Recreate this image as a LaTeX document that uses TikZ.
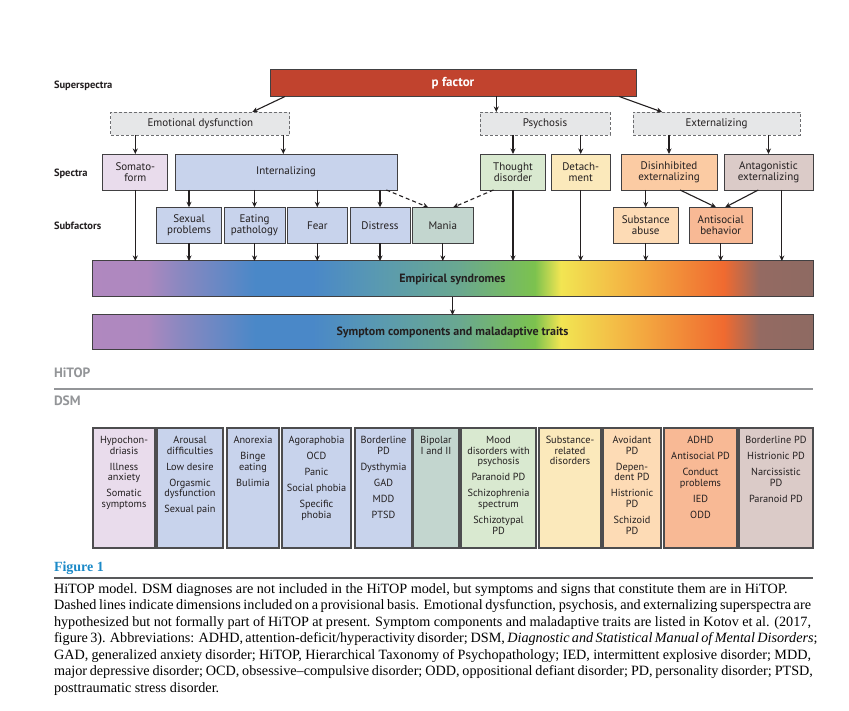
\documentclass[tikz,border=0pt]{standalone}
\usepackage{fontspec}
\setmainfont{Liberation Serif}
\newfontfamily\dsans{PT Sans}
\usetikzlibrary{arrows.meta,calc}
\definecolor{textc}{HTML}{231F20}
\definecolor{bordc}{HTML}{414042}
\definecolor{dsmbord}{HTML}{4D4D4F}
\definecolor{arrc}{HTML}{231F20}
\definecolor{dashc}{HTML}{6D6E71}
\definecolor{supgray}{HTML}{E6E7E8}
\definecolor{pred}{HTML}{C1432E}
\definecolor{cpink}{HTML}{E9DCEC}
\definecolor{cblue}{HTML}{C8D3EC}
\definecolor{cmania}{HTML}{C3D6CF}
\definecolor{cthought}{HTML}{D9E9D0}
\definecolor{cdetach}{HTML}{FBE9BB}
\definecolor{cdisinh}{HTML}{FBCBA3}
\definecolor{csubst}{HTML}{FDDBB5}
\definecolor{canti}{HTML}{F8B995}
\definecolor{cantag}{HTML}{DBCBC8}
\definecolor{hgray}{HTML}{939598}
\definecolor{figblue}{HTML}{1C8AC8}
\definecolor{ruledark}{HTML}{58595B}
\definecolor{s0}{HTML}{B088BF}
\definecolor{s1}{HTML}{AD88BF}
\definecolor{s2}{HTML}{8A88C0}
\definecolor{s3}{HTML}{4A88C8}
\definecolor{s4}{HTML}{4A88C8}
\definecolor{s5}{HTML}{5A9AB0}
\definecolor{s6}{HTML}{6AA890}
\definecolor{s7}{HTML}{7CC24E}
\definecolor{s8}{HTML}{F2E552}
\definecolor{s9}{HTML}{F3A840}
\definecolor{s10}{HTML}{F06A30}
\definecolor{s11}{HTML}{946A62}
\definecolor{s12}{HTML}{8E6A62}
\pgfdeclarehorizontalshading{spectrum}{100bp}{color(0bp)=(s0); color(25bp)=(s0); color(28.8bp)=(s1); color(31.1bp)=(s2); color(36.3bp)=(s3); color(40.3bp)=(s4); color(45bp)=(s5); color(50.5bp)=(s6); color(55.7bp)=(s7); color(57.5bp)=(s8); color(63.2bp)=(s9); color(68.8bp)=(s10); color(71.3bp)=(s11); color(75bp)=(s12); color(100bp)=(s12)}
\begin{document}
\begin{tikzpicture}[x=1pt,y=-1pt,
  every node/.style={inner sep=0pt,outer sep=0pt},
  hbox/.style={draw=bordc,line width=0.9pt,align=center,font=\dsans\fontsize{11}{11.2}\selectfont,text=textc},
  sbox/.style={draw=dashc,dash pattern=on 3pt off 2pt,line width=0.9pt,fill=supgray,font=\dsans\fontsize{11}{12}\selectfont,text=textc},
  arr/.style={draw=arrc,line width=1.1pt,-{Stealth[length=5.5pt,width=5pt]}},
  darr/.style={arr,dash pattern=on 4pt off 3pt},
  lab/.style={anchor=base west,font=\dsans\bfseries\fontsize{10.5}{12}\selectfont,text=textc},
  bar/.style={draw=bordc,line width=1pt,shading=spectrum,font=\dsans\bfseries\fontsize{12}{14}\selectfont,text=textc,minimum width=721,minimum height=36},
  dsmcol/.style={draw=dsmbord,line width=1.1pt,minimum height=120},
  dsmtext/.style={anchor=north,align=center,font=\dsans\fontsize{10.3}{10.8}\selectfont,text=textc},
  capline/.style={anchor=base west,font=\fontsize{14.2}{16}\selectfont,text=black}
]
\useasboundingbox (0,0) rectangle (849,711);
\fill[white] (0,0) rectangle (849,711);

% row labels
\node[lab] (lsup) at (54,88.7) {Superspectra};
\node[lab] (lspec) at (54,176.3) {Spectra};
\node[lab] (lsub) at (54,230) {Subfactors};

% superspectra
\node[draw=bordc,line width=0.9pt,fill=pred,text=white,font=\dsans\bfseries\fontsize{13}{14}\selectfont,minimum width=366,minimum height=27] (pf) at (453,83) {p factor};
\node[sbox,minimum width=179,minimum height=23] (emo) at (200.4,123.5) {Emotional dysfunction};
\node[sbox,minimum width=130,minimum height=23] (psy) at (545,123.5) {Psychosis};
\node[sbox,minimum width=167,minimum height=23] (ext) at (716.5,123.5) {Externalizing};

% spectra
\node[hbox,fill=cpink,minimum width=65,minimum height=36] (somato) at (135.3,172) {Somato-\\form};
\node[hbox,fill=cblue,minimum width=222,minimum height=36] (int) at (286,172) {Internalizing};
\node[hbox,fill=cthought,minimum width=65,minimum height=36] (thought) at (513,172) {Thought\\disorder};
\node[hbox,fill=cdetach,minimum width=59,minimum height=36] (detach) at (580.7,172) {Detach-\\ment};
\node[hbox,fill=cdisinh,minimum width=96,minimum height=36] (disinh) at (669,172) {Disinhibited\\externalizing};
\node[hbox,fill=cantag,minimum width=89,minimum height=36] (antag) at (768.5,172) {Antagonistic\\externalizing};

% subfactors
\node[hbox,fill=cblue,minimum width=65,minimum height=36] (sex) at (189,225.3) {Sexual\\problems};
\node[hbox,fill=cblue,minimum width=61,minimum height=36] (eat) at (254.5,225.3) {Eating\\pathology};
\node[hbox,fill=cblue,minimum width=60,minimum height=36] (fear) at (317.3,225.3) {Fear};
\node[hbox,fill=cblue,minimum width=60,minimum height=36] (distress) at (380,225.3) {Distress};
\node[hbox,fill=cmania,minimum width=61,minimum height=36] (mania) at (442.8,225.3) {Mania};
\node[hbox,fill=csubst,minimum width=65,minimum height=36] (subst) at (645.7,225.3) {Substance\\abuse};
\node[hbox,fill=canti,minimum width=63,minimum height=36] (anti) at (720.7,225.3) {Antisocial\\behavior};

% bars
\node[bar] (emp) at (452.5,279) {Empirical syndromes};
\node[bar,minimum height=35] (sym) at (452.5,332.5) {Symptom components and maladaptive traits};

% arrows from p factor
\draw[arr] ($(pf.south west)+(15,0)$) -- ($(emo.north west)!0.79!(emo.north east)$);
\coordinate (psyin) at ($(psy.north west)+(16.3,0)$);
\draw[arr] (psyin |- pf.south) -- (psyin);
\draw[arr] ($(pf.south west)!0.954!(pf.south east)$) -- ($(ext.north west)!0.174!(ext.north east)$);

% superspectra to spectra
\draw[arr] (somato.north |- emo.south) -- (somato.north);
\coordinate (intin) at ($(int.north west)+(108.3,0)$);
\draw[arr] (intin |- emo.south) -- (intin);
\draw[arr] (thought.north |- psy.south) -- (thought.north);
\draw[arr] (detach.north |- psy.south) -- (detach.north);
\draw[arr] (disinh.north |- ext.south) -- (disinh.north);
\draw[arr] (antag.north |- ext.south) -- (antag.north);

% spectra to subfactors
\draw[arr] (sex.north |- int.south) -- (sex.north);
\draw[arr] (eat.north |- int.south) -- (eat.north);
\draw[arr] (fear.north |- int.south) -- (fear.north);
\draw[arr] (distress.north |- int.south) -- (distress.north);
\draw[darr] ($(int.south west)!0.952!(int.south east)$) -- ($(mania.north west)!0.26!(mania.north east)$);
\draw[darr] ($(thought.south west)!0.2!(thought.south east)$) -- ($(mania.north west)!0.67!(mania.north east)$);
\draw[arr] (subst.north |- disinh.south) -- (subst.north);
\draw[arr] ($(disinh.south west)!0.615!(disinh.south east)$) -- ($(anti.north west)!0.426!(anti.north east)$);
\draw[arr] ($(antag.south west)!0.385!(antag.south east)$) -- ($(anti.north west)!0.57!(anti.north east)$);

% to empirical syndromes
\draw[arr] (somato.south) -- (somato.south |- emp.north);
\draw[arr] (sex.south) -- (sex.south |- emp.north);
\draw[arr] (eat.south) -- (eat.south |- emp.north);
\draw[arr] (fear.south) -- (fear.south |- emp.north);
\draw[arr] (distress.south) -- (distress.south |- emp.north);
\draw[arr] (mania.south) -- (mania.south |- emp.north);
\draw[arr] (thought.south) -- (thought.south |- emp.north);
\draw[arr] (detach.south) -- (detach.south |- emp.north);
\draw[arr] (subst.south) -- (subst.south |- emp.north);
\draw[arr] (anti.south) -- (anti.south |- emp.north);
\coordinate (antout) at ($(antag.south west)!0.65!(antag.south east)$);
\draw[arr] (antout) -- (antout |- emp.north);
\draw[arr] (emp.south) -- (sym.north);

% HiTOP / DSM headings
\node[anchor=base west,font=\dsans\bfseries\fontsize{13.5}{15}\selectfont,text=hgray] (hitop) at (54,377.7) {HiTOP};
\draw[hgray,line width=2pt] (54,389) -- (813,389);
\node[anchor=base west,font=\dsans\bfseries\fontsize{13.5}{15}\selectfont,text=hgray] (dsm) at (54,406) {DSM};

% DSM columns
\node[dsmcol,fill=cpink,minimum width=62] (c1) at (124,488) {};
\node[dsmcol,fill=cblue,minimum width=66] (c2) at (190,488) {};
\node[dsmcol,fill=cblue,minimum width=52] (c3) at (253,488) {};
\node[dsmcol,fill=cblue,minimum width=69] (c4) at (316.5,488) {};
\node[dsmcol,fill=cblue,minimum width=57] (c5) at (383.5,488) {};
\node[dsmcol,fill=cmania,minimum width=46] (c6) at (436,488) {};
\node[dsmcol,fill=cthought,minimum width=75] (c7) at (498.5,488) {};
\node[dsmcol,fill=cdetach,minimum width=62] (c8) at (570,488) {};
\node[dsmcol,fill=csubst,minimum width=58] (c9) at (632,488) {};
\node[dsmcol,fill=canti,minimum width=73] (c10) at (700.5,488) {};
\node[dsmcol,fill=cantag,minimum width=74] (c11) at (776,488) {};

\node[dsmtext] (t1) at ($(c1.north)+(0,8)$) {Hypochon-\\driasis\\[5.2pt]Illness\\anxiety\\[5.2pt]Somatic\\symptoms};
\node[dsmtext] (t2) at ($(c2.north)+(0,8)$) {Arousal\\difficulties\\[5.2pt]Low desire\\[5.2pt]Orgasmic\\dysfunction\\[5.2pt]Sexual pain};
\node[dsmtext] (t3) at ($(c3.north)+(0,8)$) {Anorexia\\[5.2pt]Binge\\eating\\[5.2pt]Bulimia};
\node[dsmtext] (t4) at ($(c4.north)+(0,8)$) {Agoraphobia\\[5.2pt]OCD\\[5.2pt]Panic\\[5.2pt]Social phobia\\[5.2pt]Specific\\phobia};
\node[dsmtext] (t5) at ($(c5.north)+(0,8)$) {Borderline\\PD\\[5.2pt]Dysthymia\\[5.2pt]GAD\\[5.2pt]MDD\\[5.2pt]PTSD};
\node[dsmtext] (t6) at ($(c6.north)+(0,8)$) {Bipolar\\I and II};
\node[dsmtext] (t7) at ($(c7.north)+(0,8)$) {Mood\\disorders with\\psychosis\\[5.2pt]Paranoid PD\\[5.2pt]Schizophrenia\\spectrum\\[5.2pt]Schizotypal\\PD};
\node[dsmtext] (t8) at ($(c8.north)+(0,8)$) {Substance-\\related\\disorders};
\node[dsmtext] (t9) at ($(c9.north)+(0,8)$) {Avoidant\\PD\\[5.2pt]Depen-\\dent PD\\[5.2pt]Histrionic\\PD\\[5.2pt]Schizoid\\PD};
\node[dsmtext] (t10) at ($(c10.north)+(0,8)$) {ADHD\\[5.2pt]Antisocial PD\\[5.2pt]Conduct\\problems\\[5.2pt]IED\\[5.2pt]ODD};
\node[dsmtext] (t11) at ($(c11.north)+(0,8)$) {Borderline PD\\[5.2pt]Histrionic PD\\[5.2pt]Narcissistic\\PD\\[5.2pt]Paranoid PD};

% Figure caption
\node[anchor=base west,font=\bfseries\fontsize{14}{16}\selectfont,text=figblue] (fig) at (54,571.5) {Figure 1};
\draw[ruledark,line width=1.3pt] (54,578) -- (813,578);
\node[capline] (cap1) at (54,593) {HiTOP model. DSM diagnoses are not included in the HiTOP model, but symptoms and signs that constitute them are in HiTOP.};
\node[capline] (cap2) at (54,609.5) {\makebox[757pt][s]{Dashed lines indicate dimensions included on a provisional basis. Emotional dysfunction, psychosis, and externalizing superspectra are}};
\node[capline] (cap3) at (54,626) {\makebox[757pt][s]{hypothesized but not formally part of HiTOP at present. Symptom components and maladaptive traits are listed in Kotov et al. (2017,}};
\node[capline] (cap4) at (54,642.5) {\makebox[758pt][s]{figure 3). Abbreviations: ADHD, attention-deficit/hyperactivity disorder; DSM, \textit{Diagnostic and Statistical Manual of Mental Disorders};}};
\node[capline] (cap5) at (54,659) {\makebox[757pt][s]{GAD, generalized anxiety disorder; HiTOP, Hierarchical Taxonomy of Psychopathology; IED, intermittent explosive disorder; MDD,}};
\node[capline] (cap6) at (54,675.5) {\makebox[759pt][s]{major depressive disorder; OCD, obsessive--compulsive disorder; ODD, oppositional defiant disorder; PD, personality disorder; PTSD,}};
\node[capline] (cap7) at (54,692) {posttraumatic stress disorder.};
\end{tikzpicture}
\end{document}
